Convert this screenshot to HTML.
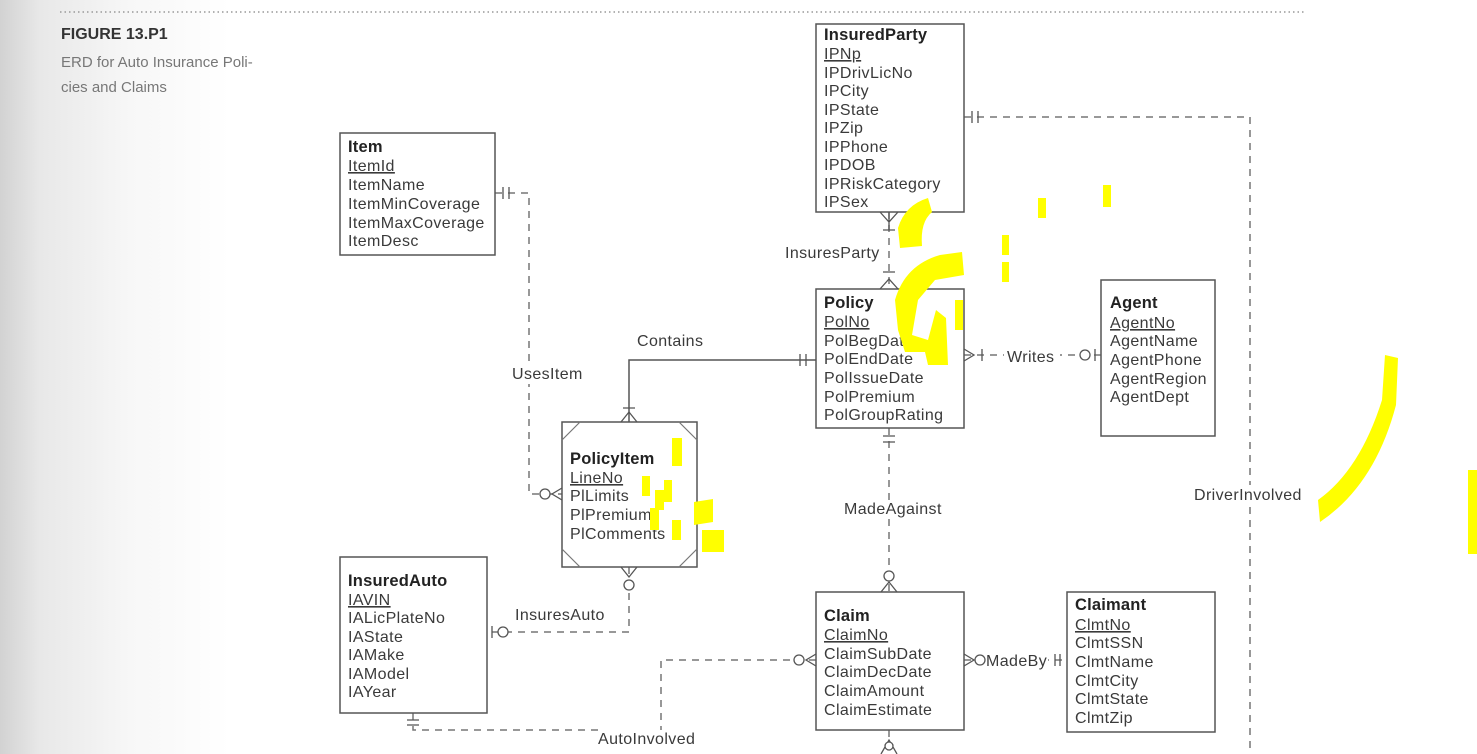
<!DOCTYPE html>
<html><head><style>
html,body{margin:0;padding:0;background:#fff}
body{width:1477px;height:754px;overflow:hidden;position:relative;background:linear-gradient(to right,#d2d2d2 0px,#e8e8e8 40px,#f7f7f7 130px,#fff 230px)}
svg{position:absolute;left:0;top:0}
text{font-family:"Liberation Sans",sans-serif;font-size:16px;letter-spacing:0.4px;fill:#3a3a3a}
.t{font-weight:bold;font-size:16.5px;letter-spacing:0.2px;fill:#222}
</style></head><body>
<svg width="1477" height="754" viewBox="0 0 1477 754">
<line x1="60" y1="12" x2="1305" y2="12" stroke="#999" stroke-width="1.5" stroke-dasharray="1.5 3"/>
<text x="61" y="39" style="font-weight:bold;font-size:16px;letter-spacing:0;fill:#333">FIGURE 13.P1</text>
<text x="61" y="67" style="fill:#777;font-size:15px;letter-spacing:0">ERD for Auto Insurance Poli-</text>
<text x="61" y="92" style="fill:#777;font-size:15px;letter-spacing:0">cies and Claims</text>

<g stroke="#777" stroke-width="1.5" fill="none" stroke-dasharray="7 6">
<line x1="889" y1="212" x2="889" y2="289"/>
<polyline points="495,193 529,193 529,494 562,494"/>
<line x1="964" y1="355" x2="1101" y2="355"/>
<polyline points="964,117 1250,117 1250,754"/>
<line x1="889" y1="428" x2="889" y2="592"/>
<polyline points="629,567 629,632 487,632"/>
<polyline points="816,660 661,660 661,730"/>
<polyline points="413,713 413,730 600,730"/>
<line x1="964" y1="660" x2="1067" y2="660"/>
<line x1="889" y1="730" x2="889" y2="754"/>
</g>
<polyline points="816,360 629,360 629,422" stroke="#555" stroke-width="1.5" fill="none"/>

<g stroke="#555" stroke-width="1.3" fill="#fff">
<path d="M880,212 L889,222 L898,212 M889,212 V230 M883,230 H895" fill="none"/>
<path d="M880,289 L889,279 L898,289 M883,272 H895" fill="none"/>
<path d="M503,187 V199 M509,187 V199" fill="none"/>
<path d="M562,488 L552,494 L562,500" fill="none"/><circle cx="545" cy="494" r="5"/>
<path d="M800,354 V366 M806,354 V366" fill="none"/>
<path d="M621,422 L629,412 L637,422 M623,408 H635" fill="none"/>
<path d="M964,349 L974,355 L964,361 M982,349 V361" fill="none"/>
<path d="M1095,349 V361" fill="none"/><circle cx="1085" cy="355" r="5"/>
<path d="M972,111 V123 M978,111 V123" fill="none"/>
<path d="M883,436 H895 M883,442 H895" fill="none"/>
<path d="M881,592 L889,582 L897,592" fill="none"/><circle cx="889" cy="576" r="5"/>
<path d="M621,567 L629,577 L637,567" fill="none"/><circle cx="629" cy="585" r="5"/>
<path d="M492,626 V638" fill="none"/><circle cx="503" cy="632" r="5"/>
<path d="M816,654 L806,660 L816,666" fill="none"/><circle cx="799" cy="660" r="5"/>
<path d="M407,720 H419 M407,725 H419" fill="none"/>
<path d="M964,654 L974,660 L964,666" fill="none"/><circle cx="980" cy="660" r="5"/>
<path d="M1055,654 V666 M1060,654 V666" fill="none"/>
<path d="M881,754 L889,740 L897,754" fill="none"/><circle cx="889" cy="746" r="4"/>
</g>

<g stroke="#555" stroke-width="1.5" fill="#fff">
<rect x="816" y="24" width="148" height="188"/>
<rect x="340" y="133" width="155" height="122"/>
<rect x="816" y="289" width="148" height="139"/>
<rect x="1101" y="280" width="114" height="156"/>
<rect x="562" y="422" width="135" height="145"/>
<rect x="340" y="557" width="147" height="156"/>
<rect x="816" y="592" width="148" height="138"/>
<rect x="1067" y="592" width="148" height="140"/>
</g>
<path d="M562,440 L580,422 M697,440 L679,422 M562,549 L580,567 M697,549 L679,567" stroke="#777" stroke-width="1.2"/>

<g>
<text class="t" x="824" y="40">InsuredParty</text>
<text x="824" y="59" text-decoration="underline">IPNp</text>
<text x="824" y="78">IPDrivLicNo</text><text x="824" y="96">IPCity</text><text x="824" y="115">IPState</text>
<text x="824" y="133">IPZip</text><text x="824" y="152">IPPhone</text><text x="824" y="170">IPDOB</text>
<text x="824" y="189">IPRiskCategory</text><text x="824" y="207">IPSex</text>

<text class="t" x="348" y="152">Item</text>
<text x="348" y="171" text-decoration="underline">ItemId</text>
<text x="348" y="190">ItemName</text><text x="348" y="209">ItemMinCoverage</text>
<text x="348" y="228">ItemMaxCoverage</text><text x="348" y="246">ItemDesc</text>

<text class="t" x="824" y="308">Policy</text>
<text x="824" y="327" text-decoration="underline">PolNo</text>
<text x="824" y="346">PolBegDate</text><text x="824" y="364">PolEndDate</text>
<text x="824" y="383">PolIssueDate</text><text x="824" y="402">PolPremium</text><text x="824" y="420">PolGroupRating</text>

<text class="t" x="1110" y="308">Agent</text>
<text x="1110" y="328" text-decoration="underline">AgentNo</text>
<text x="1110" y="346">AgentName</text><text x="1110" y="365">AgentPhone</text>
<text x="1110" y="384">AgentRegion</text><text x="1110" y="402">AgentDept</text>

<text class="t" x="570" y="464">PolicyItem</text>
<text x="570" y="483" text-decoration="underline">LineNo</text>
<text x="570" y="501">PlLimits</text><text x="570" y="520">PlPremium</text><text x="570" y="539">PlComments</text>

<text class="t" x="348" y="586">InsuredAuto</text>
<text x="348" y="605" text-decoration="underline">IAVIN</text>
<text x="348" y="623">IALicPlateNo</text><text x="348" y="642">IAState</text>
<text x="348" y="660">IAMake</text><text x="348" y="679">IAModel</text><text x="348" y="697">IAYear</text>

<text class="t" x="824" y="621">Claim</text>
<text x="824" y="640" text-decoration="underline">ClaimNo</text>
<text x="824" y="659">ClaimSubDate</text><text x="824" y="677">ClaimDecDate</text>
<text x="824" y="696">ClaimAmount</text><text x="824" y="715">ClaimEstimate</text>

<text class="t" x="1075" y="610">Claimant</text>
<text x="1075" y="630" text-decoration="underline">ClmtNo</text>
<text x="1075" y="648">ClmtSSN</text><text x="1075" y="667">ClmtName</text>
<text x="1075" y="686">ClmtCity</text><text x="1075" y="704">ClmtState</text><text x="1075" y="723">ClmtZip</text>
</g>

<g>
<rect x="784" y="243" width="96" height="20" fill="#fff"/>
<text x="785" y="258">InsuresParty</text>
<text x="637" y="346">Contains</text>
<rect x="510" y="364" width="76" height="20" fill="#fff"/>
<text x="512" y="379">UsesItem</text>
<rect x="1004" y="347" width="56" height="18" fill="#fff"/>
<text x="1007" y="362">Writes</text>
<rect x="1192" y="485" width="112" height="18" fill="#fff"/>
<text x="1194" y="500">DriverInvolved</text>
<rect x="842" y="500" width="104" height="18" fill="#fff"/>
<text x="844" y="514">MadeAgainst</text>
<text x="515" y="620">InsuresAuto</text>
<rect x="990" y="652" width="58" height="16" fill="#fff"/>
<text x="986" y="666">MadeBy</text>
<text x="598" y="744">AutoInvolved</text>
</g>

<g fill="#ffff00">
<path d="M900,248 L898,228 Q905,205 928,198 L932,212 Q920,222 922,246 Z"/>
<path d="M895,300 Q905,265 940,255 L962,252 L964,275 L935,280 L918,300 L912,335 L928,340 L936,310 L946,318 L948,365 L928,365 L925,352 L905,352 L898,330 Z"/>
<rect x="1002" y="235" width="7" height="20"/><rect x="1002" y="262" width="7" height="20"/>
<rect x="1038" y="198" width="8" height="20"/><rect x="1103" y="185" width="8" height="22"/>
<rect x="955" y="300" width="8" height="30"/>
<rect x="672" y="438" width="10" height="28"/><rect x="642" y="476" width="8" height="20"/>
<rect x="664" y="480" width="8" height="22"/><rect x="655" y="490" width="9" height="20"/>
<rect x="650" y="508" width="9" height="22"/><rect x="672" y="520" width="9" height="20"/>
<path d="M694,502 L713,499 L713,522 L694,525 Z"/><rect x="702" y="530" width="22" height="22"/>
<path d="M1318,500 Q1360,470 1382,400 L1385,355 L1398,358 L1396,405 Q1375,485 1320,522 Z"/>
<rect x="1468" y="470" width="9" height="84"/>
</g>
</svg>
</body></html>
